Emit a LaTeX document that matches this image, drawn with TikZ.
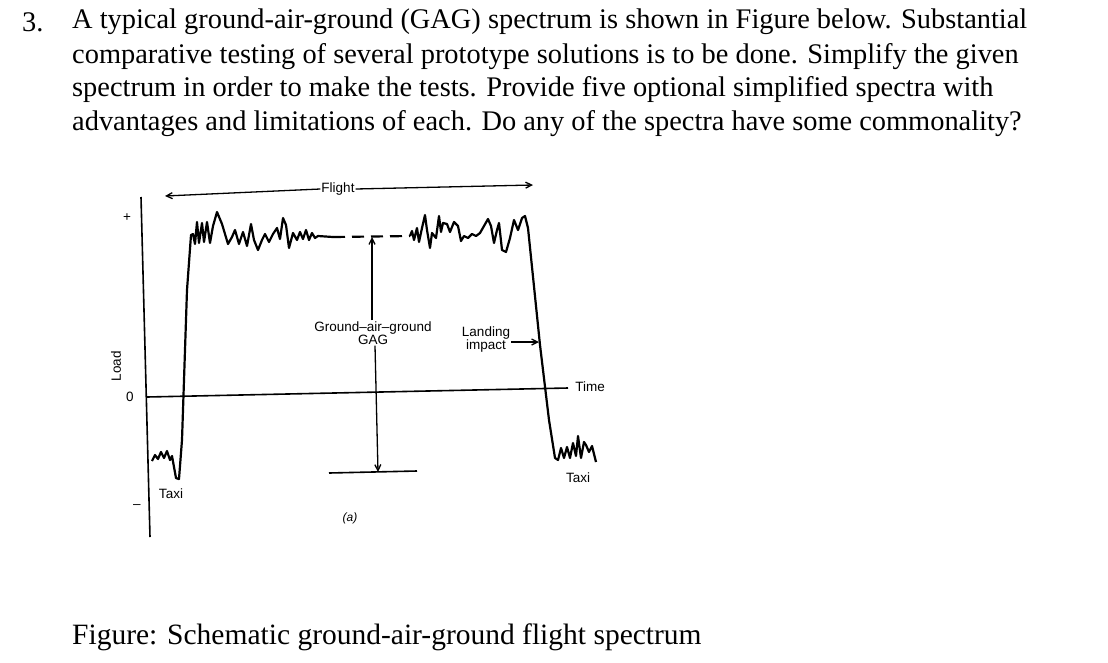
\documentclass[tikz,border=0pt]{standalone}
\usepackage{fontspec}
\setmainfont{Liberation Serif}
\newfontfamily\lblfont{Liberation Sans}
\usetikzlibrary{arrows.meta}
\begin{document}
\begin{tikzpicture}[x=1pt,y=-1pt,
  qtext/.style={font=\fontsize{28.4}{34}\selectfont,anchor=west,inner sep=0},
  lbl/.style={font=\lblfont\fontsize{13.5}{14}\selectfont,inner sep=1pt},
  curve/.style={line width=2.2pt,line join=round},
  axis/.style={line width=1.6pt},
  arr/.style={line width=1.3pt,-{Straight Barb[length=6pt,width=6pt]}}]
\useasboundingbox (0,0) rectangle (1108,662);
\node[qtext] (n3) at (22,22) {3.};
\node[qtext] (l1) at (72,22) {A typical ground-air-ground (GAG) spectrum is shown in Figure below. Substantial};
\node[qtext] (l2) at (72,57) {comparative testing of several prototype solutions is to be done. Simplify the given};
\node[qtext] (l3) at (72,90) {spectrum in order to make the tests. Provide five optional simplified spectra with};
\node[qtext] (l4) at (72,124) {advantages and limitations of each. Do any of the spectra have some commonality?};
\node[qtext,font=\fontsize{29.5}{34}\selectfont] (cap) at (72,637) {Figure: Schematic ground-air-ground flight spectrum};
% axes
\coordinate (ytop) at (141,197);
\coordinate (ybot) at (150,537);
\draw[axis] (ytop) -- (ybot);
\coordinate (t0) at (147,397);
\coordinate (t1) at (568,388);
\draw[axis] (t0) -- (t1);
\node[lbl] (time) at (590,387) {Time};
\node[lbl] (plus) at (127,218) {+};
\node[lbl] (zero) at (130,397) {0};
\node[lbl] (minus) at (137,507) {–};
\node[lbl,rotate=90] (load) at (116,366) {Load};
% flight arrow
\node[lbl] (flight) at (338,189) {Flight};
\coordinate (fl) at (165,196);
\coordinate (fr) at (533,185);
\draw[arr] (flight.west) -- (fl);
\draw[arr] (flight.east) -- (fr);
% waveform
\draw[curve] (152,461) -- (155,455) -- (158,459) -- (161,452) -- (164,458) -- (167,451) -- (170,460) -- (172,456) -- (176,478) -- (179,479) -- (182,440) -- (187,290) -- (191,235) -- (193,234) -- (195,244) -- (197,222) -- (199,243) -- (202,223) -- (204,242) -- (207,222) -- (210,243) -- (213,226) -- (217,212) -- (222,224) -- (228,244) -- (232,237) -- (235,230) -- (239,244) -- (243,232) -- (247,246) -- (251,224) -- (254,240) -- (258,250) -- (262,240) -- (265,234) -- (269,242) -- (273,234) -- (277,228) -- (280,239) -- (283,218) -- (286,225) -- (289,248) -- (293,233) -- (297,240) -- (300,232) -- (303,239) -- (306,230) -- (309,240) -- (312,233) -- (315,238) -- (318,236) -- (333,237);
\draw[curve,dash pattern=on 12pt off 7pt] (333,237) -- (410,236);
\draw[curve] (410,236) -- (412,231) -- (414,240) -- (417,228) -- (419,242) -- (422,228) -- (425,215) -- (427,230) -- (430,248) -- (432,233) -- (436,238) -- (439,216) -- (441,232) -- (443,223) -- (447,224) -- (450,232) -- (454,222) -- (458,226) -- (461,241) -- (464,236) -- (468,238) -- (472,234) -- (476,236) -- (480,233) -- (484,226) -- (488,219) -- (491,226) -- (494,243) -- (497,230) -- (499,223) -- (502,250) -- (506,252) -- (510,238) -- (514,220) -- (518,230) -- (522,218) -- (525,216) -- (528,228) -- (540,345) -- (549,420) -- (555,458) -- (558,460) -- (561,448) -- (564,458) -- (567,447) -- (570,458) -- (573,443) -- (576,456) -- (578,436) -- (581,458) -- (584,442) -- (586,445) -- (589,452) -- (592,446) -- (596,462);
% GAG
\node[lbl,align=center] (gag) at (373,333) {Ground–air–ground\\[-1pt]GAG};
\coordinate (gtop) at (372,237);
\coordinate (gbot) at (378,472);
\coordinate (bl) at (329,473);
\coordinate (br) at (417,471);
\draw[axis] (bl) -- (br);
\draw[arr] (gag.north) ++(-1,0) -- (gtop);
\draw[arr] (gag.south) ++(2,0) -- (gbot);
% landing impact
\node[lbl,align=center] (land) at (486,340) {Landing\\[-1pt]impact};
\coordinate (li) at (539,342);
\draw[arr] (land.east) ++(0,2) -- (li);
% taxi labels
\node[lbl] (taxiL) at (171,494) {Taxi};
\node[lbl] (taxiR) at (578,478) {Taxi};
\node[lbl,font=\lblfont\itshape\fontsize{12}{13}\selectfont] (a) at (350,518) {(a)};
\end{tikzpicture}
\end{document}
